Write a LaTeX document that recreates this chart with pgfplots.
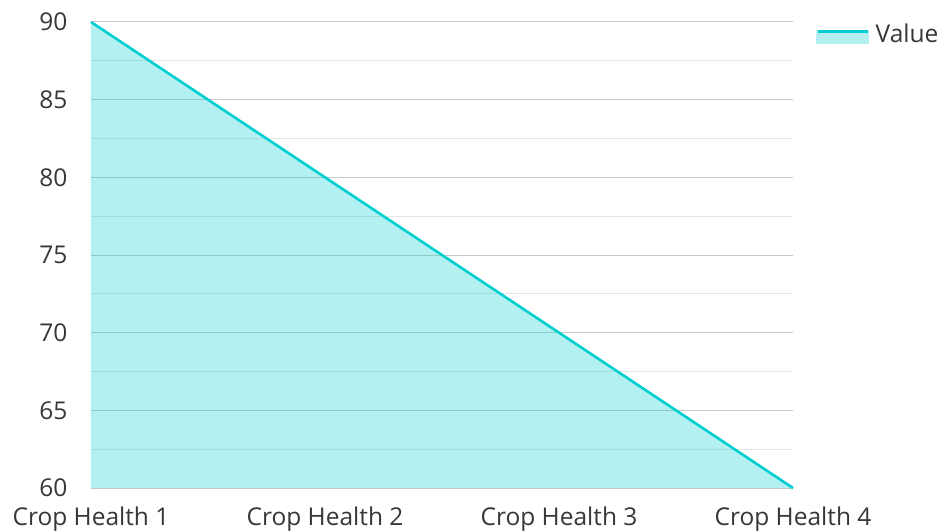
\documentclass[border=0pt]{standalone}
\usepackage{fontspec}
\setmainfont{Open Sans}
\usepackage{pgfplots}
\pgfplotsset{compat=1.18}
\definecolor{linec}{RGB}{0,206,209}
\definecolor{fillc}{RGB}{179,239,239}
\definecolor{majg}{RGB}{200,200,200}
\definecolor{ming}{RGB}{230,230,230}
\definecolor{txt}{RGB}{55,55,55}
\begin{document}
\begin{tikzpicture}
\begin{axis}[
  scale only axis,
  width=702pt, height=466pt,
  at={(0pt,0pt)}, anchor=south west,
  xmin=0, xmax=3, ymin=60, ymax=90,
  xtick={0,1,2,3},
  xticklabels={Crop Health 1,Crop Health 2,Crop Health 3,Crop Health 4},
  ytick={60,65,70,75,80,85,90},
  minor y tick num=1,
  axis line style={draw=none},
  major tick length=0pt, minor tick length=0pt,
  ymajorgrids, yminorgrids,
  major grid style={majg, line width=1pt},
  minor grid style={ming, line width=1pt},
  /pgf/number format/assume math mode=true,
  tick label style={font=\fontsize{24.5}{29}\selectfont, text=txt},
  yticklabel style={xshift=-20pt},
  xticklabel style={yshift=-15pt},
  legend style={draw=none, fill=none, at={(1,1)}, anchor=north west, xshift=23pt, yshift=0pt,
    font=\fontsize{24.5}{29}\selectfont, text=txt, inner sep=0pt},
  legend cell align=left,
  clip=false,
]
\addplot[draw=none, fill=linec, fill opacity=0.3, forget plot] coordinates {(0,90) (1,80) (2,70) (3,60)} \closedcycle;
\addplot[linec, line width=2.6pt, legend image code/.code={
  \path[draw=none] (0pt,0pt) -- (56pt,0pt);
  \fill[fillc] (0pt,-8pt) rectangle (50pt,3pt);
  \draw[linec, line width=3pt] (0pt,3pt) -- (50pt,3pt);}] coordinates {(0,90) (1,80) (2,70) (3,60)};
\addlegendentry{Value}
\end{axis}
\pgfresetboundingbox
\path (-91pt,-43pt) rectangle (851pt,488pt);
\end{tikzpicture}
\end{document}
